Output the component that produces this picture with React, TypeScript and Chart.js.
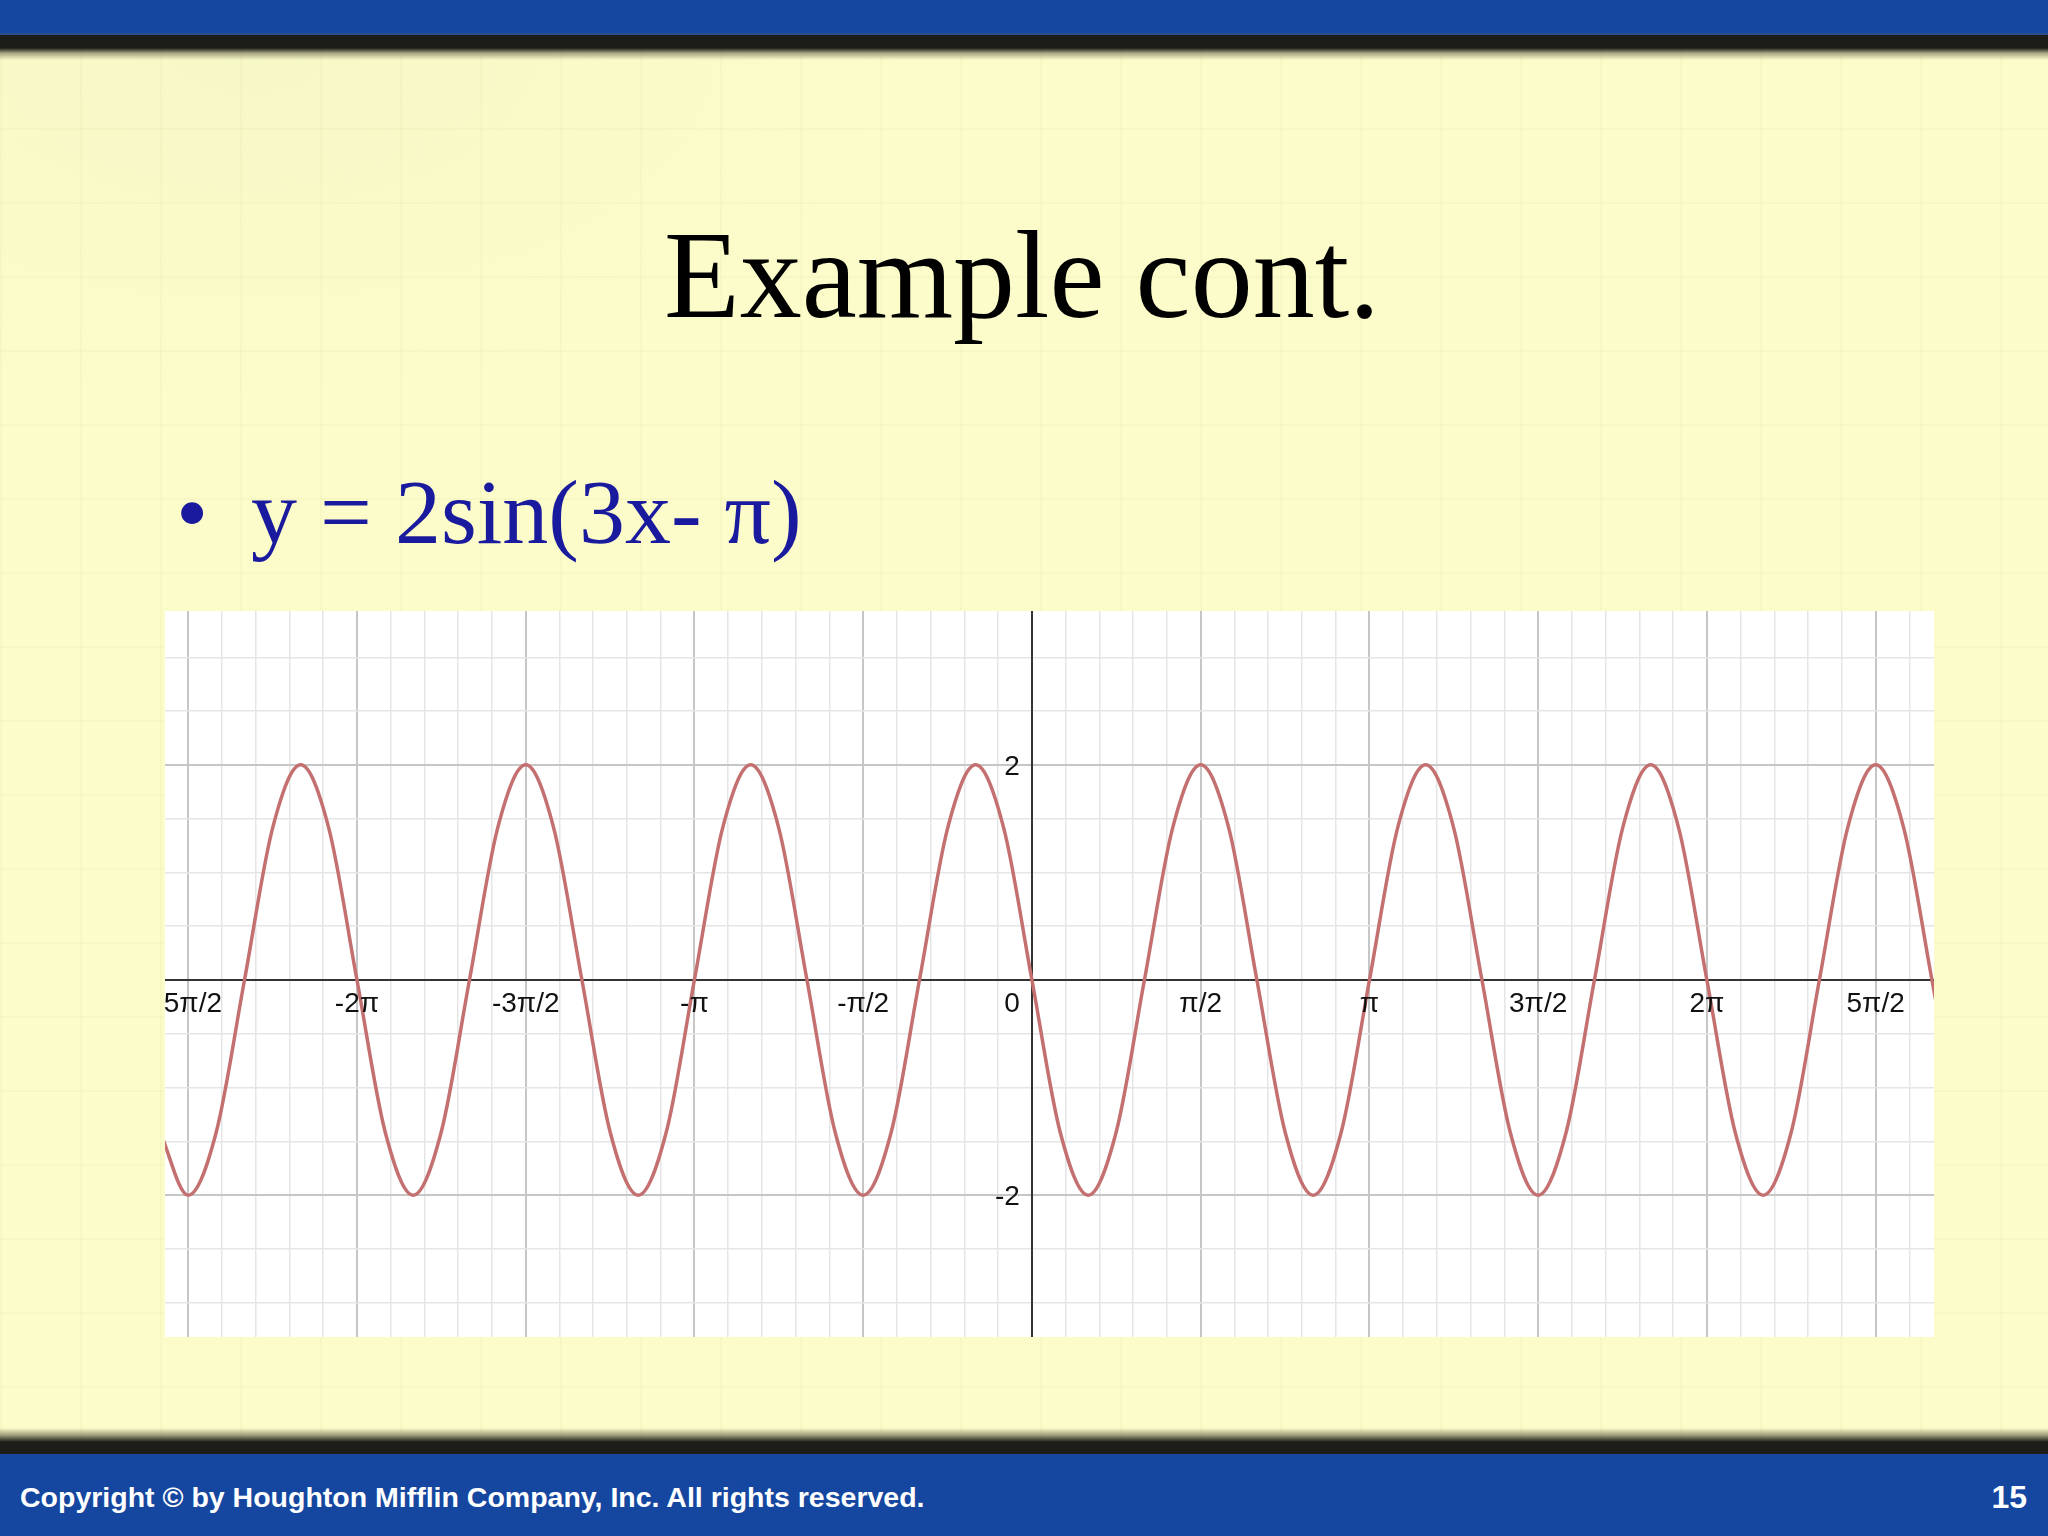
import React, { useEffect, useRef } from 'react';
import { Chart, registerables } from 'chart.js';

Chart.register(...registerables);

// Curve y = 2sin(3x - π) at every π/12 on the x axis
const xValues = [
  -8.116, -7.854, -7.592, -7.33, -7.069, -6.807, -6.545, -6.283,
  -6.021, -5.76, -5.498, -5.236, -4.974, -4.712, -4.451, -4.189,
  -3.927, -3.665, -3.403, -3.142, -2.88, -2.618, -2.356, -2.094,
  -1.833, -1.571, -1.309, -1.047, -0.785, -0.524, -0.262, 0,
  0.262, 0.524, 0.785, 1.047, 1.309, 1.571, 1.833, 2.094,
  2.356, 2.618, 2.88, 3.142, 3.403, 3.665, 3.927, 4.189,
  4.451, 4.712, 4.974, 5.236, 5.498, 5.76, 6.021, 6.283,
  6.545, 6.807, 7.069, 7.33, 7.592, 7.854, 8.116, 8.378, 8.639,
];
const yValues = [
  -1.41, -2, -1.41, 0, 1.41, 2, 1.41, 0,
  -1.41, -2, -1.41, 0, 1.41, 2, 1.41, 0,
  -1.41, -2, -1.41, 0, 1.41, 2, 1.41, 0,
  -1.41, -2, -1.41, 0, 1.41, 2, 1.41, 0,
  -1.41, -2, -1.41, 0, 1.41, 2, 1.41, 0,
  -1.41, -2, -1.41, 0, 1.41, 2, 1.41, 0,
  -1.41, -2, -1.41, 0, 1.41, 2, 1.41, 0,
  -1.41, -2, -1.41, 0, 1.41, 2, 1.41, 0, -1.41,
];

// Axis labels
const xTickMultiplesOfPi = [-2.5, -2, -1.5, -1, -0.5, 0.5, 1, 1.5, 2, 2.5];
const xTickLabels = ['-5π/2', '-2π', '-3π/2', '-π', '-π/2', 'π/2', 'π', '3π/2', '2π', '5π/2'];
const yTickValues = [-2, 2];
const yTickLabels = ['-2', '2'];
const originLabel = '0';

// Visible window of the graph
const xRange = [-8.07, 8.397];
const yRange = [-3.318, 3.43];

const PI = Math.PI;
const X_MINOR = PI / 10;
const X_MAJOR = PI / 2;
const Y_MINOR = 0.5;
const Y_MAJOR = 2;

const isMultiple = (v: number, step: number) => {
  const r = v / step;
  return Math.abs(r - Math.round(r)) < 1e-6;
};

const TICK_FONT = { family: '"Liberation Sans", Arial, sans-serif', size: 28 };
const LABEL_GAP = 12;

// draws the y labels left of the y axis and the origin "0" at the bottom-left corner of the origin
const sideLabelsPlugin = {
  id: 'sideLabels',
  afterDatasetsDraw(chart: any) {
    const xs = chart.scales.x;
    const ys = chart.scales.y;
    const ctx = chart.ctx;
    const ax = xs.getPixelForValue(0);
    ctx.save();
    ctx.font = `${TICK_FONT.size}px ${TICK_FONT.family}`;
    ctx.fillStyle = '#111';
    ctx.textAlign = 'right';
    ctx.textBaseline = 'middle';
    yTickValues.forEach((v, i) => {
      ctx.fillText(yTickLabels[i], ax - LABEL_GAP, ys.getPixelForValue(v) + 2);
    });
    ctx.fillText(originLabel, ax - LABEL_GAP, ys.getPixelForValue(0) + 24);
    ctx.restore();
  },
};

function SineChart() {
  const ref = useRef<HTMLCanvasElement | null>(null);
  useEffect(() => {
    if (!ref.current) return;
    const chart = new Chart(ref.current, {
      type: 'line',
      data: {
        datasets: [
          {
            data: xValues.map((x, i) => ({ x, y: yValues[i] })),
            borderColor: '#C47070',
            borderWidth: 3.5,
            pointRadius: 0,
            fill: false,
            cubicInterpolationMode: 'monotone',
          },
        ],
      },
      options: {
        animation: false,
        responsive: false,
        maintainAspectRatio: false,
        devicePixelRatio: 1,
        layout: { padding: 0 },
        plugins: {
          legend: { display: false },
          tooltip: { enabled: false },
          title: { display: false },
        },
        scales: {
          x: {
            type: 'linear',
            min: xRange[0],
            max: xRange[1],
            position: { y: 0 },
            afterBuildTicks: (scale: any) => {
              const ticks = [];
              const a = Math.ceil(xRange[0] / X_MINOR - 1e-9);
              const b = Math.floor(xRange[1] / X_MINOR + 1e-9);
              for (let k = a; k <= b; k++) ticks.push({ value: k * X_MINOR });
              scale.ticks = ticks;
            },
            afterFit: (scale: any) => {
              scale.paddingLeft = 0;
              scale.paddingRight = 0;
            },
            grid: {
              drawTicks: false,
              color: (c: any) => {
                const v = c.tick ? c.tick.value : 1;
                if (Math.abs(v) < 1e-9) return 'rgba(0,0,0,0)';
                return isMultiple(v, X_MAJOR) ? '#c6c6c6' : '#e5e5e5';
              },
              lineWidth: (c: any) => {
                const v = c.tick ? c.tick.value : 1;
                return isMultiple(v, X_MAJOR) ? 2 : 1.5;
              },
            },
            border: { color: '#333333', width: 2 },
            ticks: {
              z: 1,
              autoSkip: false,
              maxRotation: 0,
              minRotation: 0,
              padding: 7,
              color: '#111',
              font: TICK_FONT,
              callback: (v: any) => {
                const idx = xTickMultiplesOfPi.findIndex((m) => Math.abs(m * PI - v) < 1e-6);
                return idx >= 0 ? xTickLabels[idx] : '';
              },
            },
          },
          y: {
            type: 'linear',
            min: yRange[0],
            max: yRange[1],
            position: { x: 0 },
            afterBuildTicks: (scale: any) => {
              const ticks = [];
              const a = Math.ceil(yRange[0] / Y_MINOR - 1e-9);
              const b = Math.floor(yRange[1] / Y_MINOR + 1e-9);
              for (let k = a; k <= b; k++) ticks.push({ value: k * Y_MINOR });
              scale.ticks = ticks;
            },
            afterFit: (scale: any) => {
              scale.paddingTop = 0;
              scale.paddingBottom = 0;
            },
            grid: {
              drawTicks: false,
              color: (c: any) => {
                const v = c.tick ? c.tick.value : 1;
                if (Math.abs(v) < 1e-9) return 'rgba(0,0,0,0)';
                return isMultiple(v, Y_MAJOR) ? '#c6c6c6' : '#e5e5e5';
              },
              lineWidth: (c: any) => {
                const v = c.tick ? c.tick.value : 1;
                return isMultiple(v, Y_MAJOR) ? 2 : 1.5;
              },
            },
            border: { color: '#333333', width: 2 },
            ticks: { display: false },
          },
        },
      } as any,
      plugins: [sideLabelsPlugin],
    } as any);
    return () => chart.destroy();
  }, []);

  return (
    <canvas
      ref={ref}
      width={1769}
      height={726}
      style={{
        position: 'absolute',
        left: 165,
        top: 611,
        width: 1769,
        height: 726,
        background: '#ffffff',
      }}
    />
  );
}

export default function App() {
  return (
    <div
      style={{
        position: 'absolute',
        left: 0,
        top: 0,
        width: 2048,
        height: 1536,
        overflow: 'hidden',
        background: '#FCFCCA',
      }}
    >
      {/* subtle background swoosh */}
      <div
        style={{
          position: 'absolute',
          left: -400,
          top: -300,
          width: 1300,
          height: 700,
          borderRadius: '50%',
          background: 'radial-gradient(ellipse at center, rgba(240,242,196,0.45) 0%, rgba(240,242,196,0) 70%)',
        }}
      />
      {/* faint background grid */}
      <div
        style={{
          position: 'absolute',
          left: 0,
          top: 0,
          width: 2048,
          height: 1536,
          backgroundImage:
            'repeating-linear-gradient(90deg, rgba(200,200,140,0.09) 0px, rgba(200,200,140,0.09) 2px, transparent 2px, transparent 80px), repeating-linear-gradient(0deg, rgba(200,200,140,0.09) 0px, rgba(200,200,140,0.09) 2px, transparent 2px, transparent 74px)',
        }}
      />
      {/* top bar */}
      <div style={{ position: 'absolute', left: 0, top: 0, width: 2048, height: 33, background: '#1547A0' }} />
      <div style={{ position: 'absolute', left: 0, top: 33, width: 2048, height: 2, background: '#2a4f8a' }} />
      <div style={{ position: 'absolute', left: 0, top: 35, width: 2048, height: 13, background: '#1c1d18' }} />
      <div
        style={{
          position: 'absolute',
          left: 0,
          top: 48,
          width: 2048,
          height: 12,
          background: 'linear-gradient(180deg, rgba(28,29,24,1) 0%, rgba(120,120,90,0.6) 45%, rgba(252,252,202,0) 100%)',
        }}
      />
      {/* bottom bar */}
      <div
        style={{
          position: 'absolute',
          left: 0,
          top: 1428,
          width: 2048,
          height: 14,
          background: 'linear-gradient(180deg, rgba(252,252,202,0) 0%, rgba(120,120,90,0.7) 50%, rgba(28,29,24,1) 100%)',
        }}
      />
      <div style={{ position: 'absolute', left: 0, top: 1442, width: 2048, height: 12, background: '#1c1d18' }} />
      <div style={{ position: 'absolute', left: 0, top: 1454, width: 2048, height: 82, background: '#1547A0' }} />

      {/* title */}
      <div
        style={{
          position: 'absolute',
          left: 0,
          top: 214,
          width: 2044,
          textAlign: 'center',
          fontFamily: '"Liberation Serif", "Times New Roman", serif',
          fontSize: 124,
          lineHeight: 1,
          color: '#000',
          whiteSpace: 'pre',
        }}
      >
        Example cont.
      </div>

      {/* bullet */}
      <div
        style={{
          position: 'absolute',
          left: 176,
          top: 466,
          fontFamily: '"Liberation Serif", "Times New Roman", serif',
          fontSize: 92,
          lineHeight: 1,
          color: '#1A1A9E',
          whiteSpace: 'pre',
        }}
      >
        •
      </div>
      <div
        style={{
          position: 'absolute',
          left: 251,
          top: 466,
          fontFamily: '"Liberation Serif", "Times New Roman", serif',
          fontSize: 92,
          lineHeight: 1,
          color: '#1A1A9E',
          whiteSpace: 'pre',
        }}
      >
        y = 2sin(3x- π)
      </div>

      <SineChart />

      {/* footer */}
      <div
        style={{
          position: 'absolute',
          left: 20,
          top: 1483,
          fontFamily: '"Liberation Sans", Arial, sans-serif',
          fontWeight: 'bold',
          fontSize: 28.5,
          lineHeight: 1,
          color: '#ffffff',
          whiteSpace: 'pre',
        }}
      >
        Copyright © by Houghton Mifflin Company, Inc. All rights reserved.
      </div>
      <div
        style={{
          position: 'absolute',
          right: 21,
          top: 1481,
          fontFamily: '"Liberation Sans", Arial, sans-serif',
          fontWeight: 'bold',
          fontSize: 32,
          lineHeight: 1,
          color: '#ffffff',
          whiteSpace: 'pre',
        }}
      >
        15
      </div>
    </div>
  );
}
